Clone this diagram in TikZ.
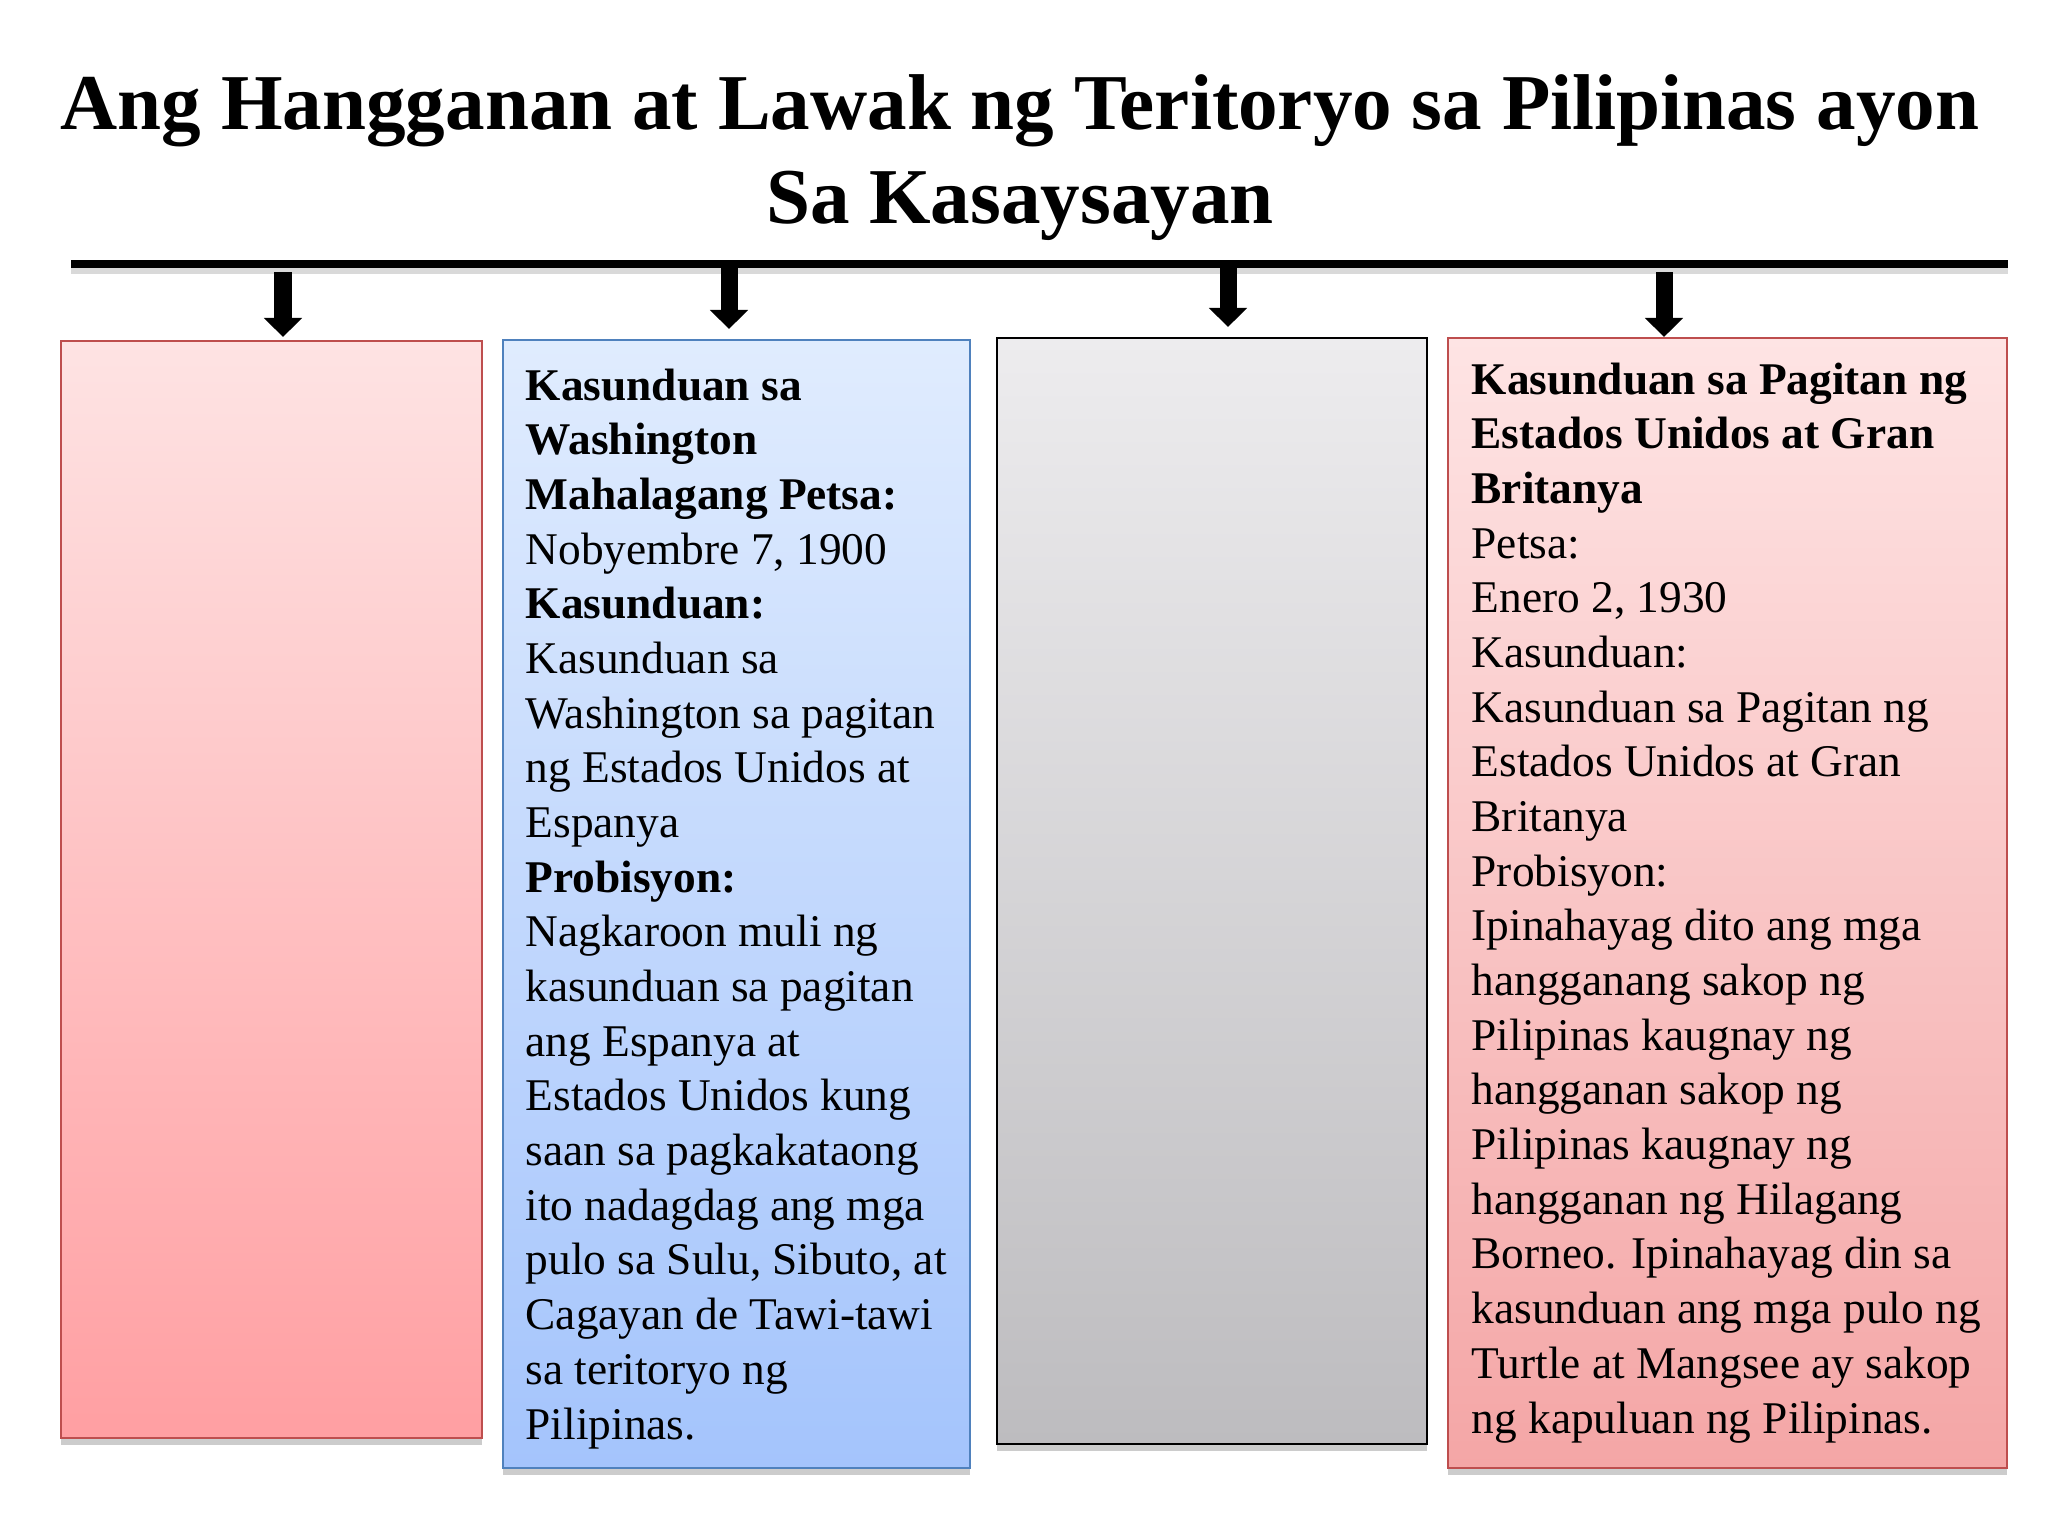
\documentclass[tikz,border=0pt]{standalone}
\usepackage{fontspec}
\setmainfont{Liberation Serif}
\usetikzlibrary{shapes,arrows.meta,positioning,shadows,calc}

\definecolor{rosetop}{RGB}{254,227,227}
\definecolor{rosebot}{RGB}{255,159,162}
\definecolor{roseline}{RGB}{190,78,78}
\definecolor{bluetop}{RGB}{224,236,254}
\definecolor{bluebot}{RGB}{164,196,252}
\definecolor{blueline}{RGB}{79,129,189}
\definecolor{greytop}{RGB}{237,236,238}
\definecolor{greybot}{RGB}{189,188,191}
\definecolor{redtop}{RGB}{254,228,228}
\definecolor{redbot}{RGB}{244,166,166}

\begin{document}
\begin{tikzpicture}[x=0.01cm,y=-0.01cm,
  box/.style={rectangle, draw, line width=0.02cm, anchor=north west, inner sep=0pt, outer sep=0pt,
    drop shadow={shadow xshift=0pt, shadow yshift=-0.07cm, opacity=0.4}},
  txt/.style={anchor=base west, align=left, inner sep=0pt, font=\fontsize{12.9}{15.55}\selectfont},
  pointer/.style={line width=0.17cm, -{Triangle[width=0.37cm,length=0.19cm]}}]
\useasboundingbox (0,0) rectangle (2048,1536);

% title
\node[anchor=base, font=\fontsize{22.5}{27}\bfseries\selectfont] (title1) at (1020,129) {Ang Hangganan at Lawak ng Teritoryo sa Pilipinas ayon};
\node[anchor=base, font=\fontsize{22.5}{27}\bfseries\selectfont] (title2) at (1020,223) {Sa Kasaysayan};

% bar
\node[fill=black, minimum width=19.35cm, minimum height=0.08cm, inner sep=0pt,
  drop shadow={shadow xshift=0pt, shadow yshift=-0.06cm, opacity=0.3}] (bar) at (1039.5,264) {};

% boxes
\node[box, draw=roseline, top color=rosetop, bottom color=rosebot, minimum width=4.21cm, minimum height=10.96cm] (box1) at (61,341) {};
\node[box, draw=blueline, top color=bluetop, bottom color=bluebot, minimum width=4.67cm, minimum height=11.27cm] (box2) at (503,340) {};
\node[box, draw=black, top color=greytop, bottom color=greybot, minimum width=4.30cm, minimum height=11.05cm] (box3) at (997,338) {};
\node[box, draw=roseline, top color=redtop, bottom color=redbot, minimum width=5.59cm, minimum height=11.29cm] (box4) at (1448,338) {};

% arrows
\coordinate (a1) at (283,272);
\coordinate (a2) at (729,264);
\coordinate (a3) at (1228,264);
\coordinate (a4) at (1664,272);
\draw[pointer, shorten >=0.04cm] (a1) -- (a1 |- box1.north);
\draw[pointer, shorten >=0.11cm] (a2) -- (a2 |- box2.north);
\draw[pointer, shorten >=0.11cm] (a3) -- (a3 |- box3.north);
\draw[pointer, shorten >=0.01cm] (a4) -- (a4 |- box4.north);

% texts (base = last line)
\node[txt] (t2) at (525,1439) {\textbf{Kasunduan sa}\\
\textbf{Washington}\\
\textbf{Mahalagang Petsa:}\\
Nobyembre 7, 1900\\
\textbf{Kasunduan:}\\
Kasunduan sa\\
Washington sa pagitan\\
ng Estados Unidos at\\
Espanya\\
\textbf{Probisyon:}\\
Nagkaroon muli ng\\
kasunduan sa pagitan\\
ang Espanya at\\
Estados Unidos kung\\
saan sa pagkakataong\\
ito nadagdag ang mga\\
pulo sa Sulu, Sibuto, at\\
Cagayan de Tawi-tawi\\
sa teritoryo ng\\
Pilipinas.};

\node[txt] (t4) at (1471,1433) {\textbf{Kasunduan sa Pagitan ng}\\
\textbf{Estados Unidos at Gran}\\
\textbf{Britanya}\\
Petsa:\\
Enero 2, 1930\\
Kasunduan:\\
Kasunduan sa Pagitan ng\\
Estados Unidos at Gran\\
Britanya\\
Probisyon:\\
Ipinahayag dito ang mga\\
hangganang sakop ng\\
Pilipinas kaugnay ng\\
hangganan sakop ng\\
Pilipinas kaugnay ng\\
hangganan ng Hilagang\\
Borneo. Ipinahayag din sa\\
kasunduan ang mga pulo ng\\
Turtle at Mangsee ay sakop\\
ng kapuluan ng Pilipinas.};
\end{tikzpicture}
\end{document}
